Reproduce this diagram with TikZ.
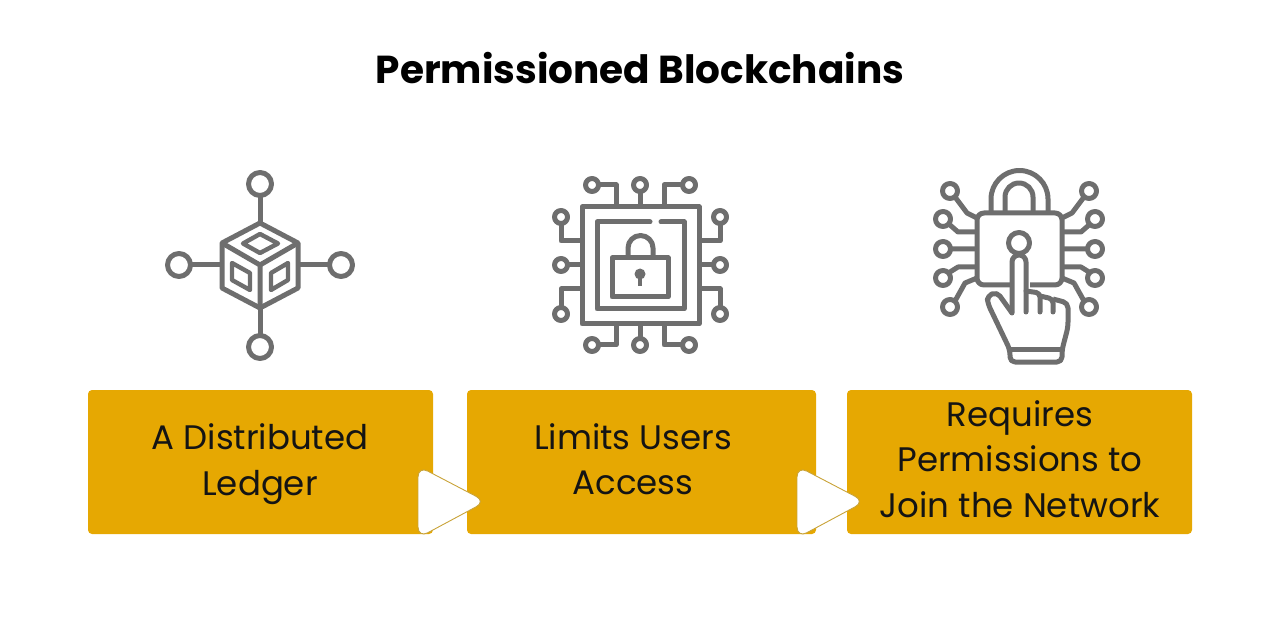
\documentclass[tikz,border=0pt]{standalone}
\usepackage{fontspec}
\setmainfont{Poppins}
\usetikzlibrary{positioning}
\definecolor{boxgold}{HTML}{E6A802}
\definecolor{icongrey}{HTML}{6E6E6E}
\definecolor{tipedge}{HTML}{C9A338}
\tikzset{
  iconline/.style={draw=icongrey, line width=5pt, line join=round},
  thinline/.style={draw=icongrey, line width=4.4pt, line join=round},
  goldbox/.style={fill=boxgold, rounded corners=4pt},
  boxtext/.style={align=center, text=black!92, font=\fontsize{34}{45.5}\selectfont},
  titletext/.style={text=black, font=\fontsize{39}{44}\selectfont\bfseries},
  playtip/.style={fill=white, draw=tipedge, line width=0.9pt, rounded corners=11pt}
}
\begin{document}
\begin{tikzpicture}[x=1pt, y=-1pt]
  \useasboundingbox (0,0) rectangle (1280,644);
  \node[titletext] (title) at (640,68) {Permissioned Blockchains};
  % boxes and their texts
  \foreach \l/\r/\tx/\ty/\name/\txt in {88/433/260/464/a/{A Distributed\\Ledger}, 467/816/633/459/b/{Limits Users\\Access}, 847/1192/1020/459/c/{Requires\\Permissions to\\Join the Network}} {
    \path[goldbox] (\l,390) rectangle (\r,534);
    \node[boxtext] (txt\name) at (\tx,\ty) {\txt};
  }
  % arrows over the boxes
  \foreach \x in {420,799} {
    \draw[playtip] (\x-2,501.5) -- (\x-2,466) -- (\x+66,501.5) -- (\x-2,538) -- cycle;
  }
  % first icon : cube
  \foreach \x/\y in {260/184, 179/265, 341/265, 260/347} {
    \draw[iconline] (\x,\y) circle (11.5);
  }
  \draw[iconline] (260,195.5) -- (260,223) (260,308) -- (260,335.5)
                  (190.5,265) -- (222,265) (298,265) -- (329.5,265);
  \draw[iconline] (260,223) -- (298,243) -- (298,288) -- (260,308) -- (222,288) -- (222,243) -- cycle;
  \draw[iconline] (222,243) -- (260,265) -- (298,243) (260,265) -- (260,308);
  \draw[thinline] (260,234) -- (278,243.5) -- (260,253) -- (243,243.5) -- cycle;
  \draw[thinline] (232,263) -- (250,273) -- (250,290) -- (232,280) -- cycle;
  \draw[thinline] (271,273) -- (288,263) -- (288,280) -- (271,290) -- cycle;
  % second icon : chip
  \draw[iconline] (582,207) rectangle (699,324);
  \draw[iconline, line cap=round] (650,222) -- (597,222) -- (597,309) -- (684,309) -- (684,222) -- (661,222);
  \draw[iconline] (612,258) rectangle (668,297);
  \draw[iconline] (628,258) -- (628,248) arc (-180:0:12.5) -- (653,258);
  \fill[icongrey] (640,274) circle (5.5);
  \draw[icongrey, line width=3.5pt] (640,274) -- (640,286);
  \foreach \x/\y in {592/185, 640/185, 689/185, 592/345, 640/345, 689/345, 561/217, 561/265, 561/314, 720/217, 720/265, 720/314} {
    \draw[iconline] (\x,\y) circle (6.5);
  }
  \draw[iconline] (598.5,185) -- (616,185) -- (616,207) (640,191.5) -- (640,207) (682.5,185) -- (664,185) -- (664,207);
  \draw[iconline] (598.5,345) -- (616,345) -- (616,324) (640,338.5) -- (640,324) (682.5,345) -- (664,345) -- (664,324);
  \draw[iconline] (561,223.5) -- (561,241) -- (582,241) (567.5,265) -- (582,265) (561,307.5) -- (561,289) -- (582,289);
  \draw[iconline] (720,223.5) -- (720,241) -- (699,241) (713.5,265) -- (699,265) (720,307.5) -- (720,289) -- (699,289);
  % third icon : padlock and hand
  \draw[iconline] (991,213) -- (991,199) arc (-180:0:28.5) -- (1048,213);
  \draw[iconline] (1005,213) -- (1005,197) arc (-180:0:14) -- (1033,213);
  \draw[iconline, rounded corners=7pt] (1010,285) -- (977,285) -- (977,213) -- (1062,213) -- (1062,285) -- (1030,285);
  \draw[iconline] (1019,243) circle (10.5);
  \draw[iconline, line cap=round] (1012,313) -- (1012,262) arc (-180:0:7) -- (1026,312);
  \draw[iconline, rounded corners=5pt] (1012,313) -- (997,292) -- (987,296) -- (988,304) -- (1010,350) -- (1010,362) -- (1062,362) -- (1062,350) -- (1068,327) -- (1068,303) -- (1053,299);
  \draw[iconline] (1010,350) -- (1062,350);
  \draw[iconline, line cap=round, rounded corners=4pt] (1026,291) -- (1040,293) -- (1040,312);
  \draw[iconline, line cap=round, rounded corners=4pt] (1040,296) -- (1053,299) -- (1053,312);
  \foreach \x/\y in {950/191, 943/219, 943/249, 943/278, 950/307, 1089/191, 1095/219, 1095/249, 1095/278, 1089/307} {
    \draw[iconline] (\x,\y) circle (7.5);
  }
  \draw[iconline] (955,197) -- (967,213) -- (977,218) (950,225) -- (958,232) -- (975,232) (951,249) -- (975,249)
                  (950,272) -- (958,267) -- (975,267) (955,301) -- (965,283) -- (977,278);
  \draw[iconline] (1084,197) -- (1072,213) -- (1062,218) (1089,225) -- (1081,232) -- (1064,232) (1087,249) -- (1064,249)
                  (1089,272) -- (1081,267) -- (1064,267) (1084,301) -- (1074,283) -- (1062,278);
\end{tikzpicture}
\end{document}
